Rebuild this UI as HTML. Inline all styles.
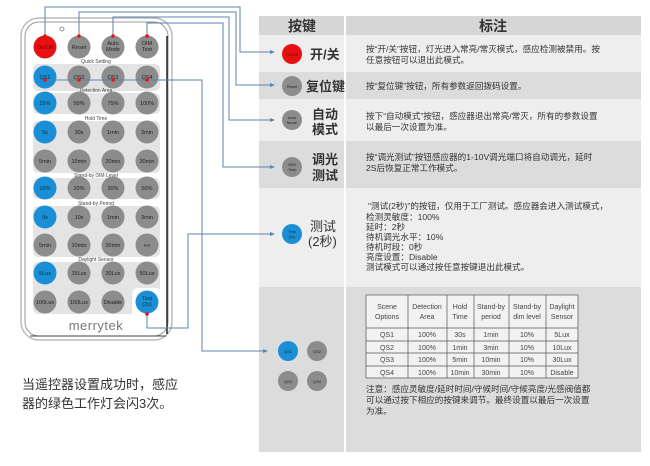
<!DOCTYPE html>
<html><head><meta charset="utf-8"><style>
body{margin:0;background:#fff;}
svg text{font-family:"Liberation Sans","Noto Sans CJK SC",sans-serif;}
</style></head><body>
<svg width="650" height="461" viewBox="0 0 650 461" xmlns="http://www.w3.org/2000/svg">
<!-- table background -->
<rect x="259" y="16" width="382" height="19" fill="#d6d6d6"/>
<rect x="259" y="35" width="382" height="37" fill="#eeeeee"/>
<rect x="259" y="72" width="382" height="27" fill="#dcdcdc"/>
<rect x="259" y="99" width="382" height="42" fill="#eeeeee"/>
<rect x="259" y="141" width="382" height="47" fill="#dcdcdc"/>
<rect x="259" y="188" width="382" height="99" fill="#eeeeee"/>
<rect x="259" y="287" width="382" height="165" fill="#dcdcdc"/>
<line x1="345" y1="16" x2="345" y2="452" stroke="#fff" stroke-width="2"/>
<text x="302" y="31" font-size="14" font-weight="bold" fill="#333" text-anchor="middle">按键</text>
<text x="493" y="31" font-size="14" font-weight="bold" fill="#333" text-anchor="middle">标注</text>

<!-- row icons -->
<circle cx="292" cy="54" r="10" fill="#e81010"/><text x="292" y="56" font-size="4" fill="#600" text-anchor="middle">On/Off</text>
<text x="310" y="59" font-size="13" font-weight="bold" fill="#333">开/关</text>
<circle cx="292" cy="86" r="10" fill="#8c8c8c"/><text x="292" y="88" font-size="4" fill="#222" text-anchor="middle">Reset</text>
<text x="306" y="91" font-size="13" font-weight="bold" fill="#333">复位键</text>
<circle cx="292" cy="120" r="10" fill="#8c8c8c"/><text x="292" y="119" font-size="4" fill="#222" text-anchor="middle">Auto</text><text x="292" y="124" font-size="4" fill="#222" text-anchor="middle">Mode</text>
<text x="312" y="119" font-size="13" font-weight="bold" fill="#333">自动</text><text x="312" y="134" font-size="13" font-weight="bold" fill="#333">模式</text>
<circle cx="292" cy="167" r="10" fill="#8c8c8c"/><text x="292" y="166" font-size="4" fill="#222" text-anchor="middle">DIM</text><text x="292" y="171" font-size="4" fill="#222" text-anchor="middle">Test</text>
<text x="312" y="164" font-size="13" font-weight="bold" fill="#333">调光</text><text x="312" y="180" font-size="13" font-weight="bold" fill="#333">测试</text>
<circle cx="292" cy="234" r="10" fill="#1a8fd6"/><text x="292" y="233" font-size="4" fill="#033" text-anchor="middle">Test</text><text x="292" y="238" font-size="4" fill="#033" text-anchor="middle">(2s)</text>
<text x="310" y="231" font-size="13" fill="#333">测试</text><text x="308" y="246" font-size="13" fill="#333">(2秒)</text>
<circle cx="288" cy="351" r="10" fill="#1a8fd6"/><text x="288" y="353" font-size="4" fill="#033" text-anchor="middle">QS1</text>
<circle cx="317" cy="351" r="10" fill="#8c8c8c"/><text x="317" y="353" font-size="4" fill="#222" text-anchor="middle">QS2</text>
<circle cx="288" cy="381" r="10" fill="#8c8c8c"/><text x="288" y="383" font-size="4" fill="#222" text-anchor="middle">QS3</text>
<circle cx="317" cy="381" r="10" fill="#8c8c8c"/><text x="317" y="383" font-size="4" fill="#222" text-anchor="middle">QS4</text>

<!-- descriptions -->
<g font-size="8.6" fill="#333">
<text x="366" y="52">按“开/关”按钮，灯光进入常亮/常灭模式，感应检测被禁用。按</text>
<text x="366" y="63">任意按钮可以退出此模式。</text>
<text x="366" y="89">按“复位键”按钮，所有参数返回拨码设置。</text>
<text x="366" y="119">按下“自动模式”按钮，感应器退出常亮/常灭，所有的参数设置</text>
<text x="366" y="130">以最后一次设置为准。</text>
<text x="366" y="160">按“调光测试”按钮感应器的1-10V调光端口将自动调光，延时</text>
<text x="366" y="171">2S后恢复正常工作模式。</text>
<text x="368" y="209">"测试(2秒)"的按钮，仅用于工厂测试。感应器会进入测试模式，</text>
<text x="366" y="220">检测灵敏度：100%</text>
<text x="366" y="230">延时：2秒</text>
<text x="366" y="240">待机调光水平：10%</text>
<text x="366" y="250">待机时段：0秒</text>
<text x="366" y="260">亮度设置：Disable</text>
<text x="366" y="270">测试模式可以通过按任意按键退出此模式。</text>
<text x="366" y="392">注意：感应灵敏度/延时时间/守候时间/守候亮度/光感阀值都</text>
<text x="366" y="403">可以通过按下相应的按键来调节。最终设置以最后一次设置</text>
<text x="366" y="414">为准。</text>
</g>

<!-- inner table -->
<g stroke="#555" stroke-width="0.7" fill="none">
<rect x="366" y="295" width="212" height="83" fill="#f2f2f2"/>
<line x1="366" y1="328" x2="578" y2="328"/><line x1="366" y1="341" x2="578" y2="341"/><line x1="366" y1="353" x2="578" y2="353"/><line x1="366" y1="366" x2="578" y2="366"/>
<line x1="408" y1="295" x2="408" y2="378"/><line x1="447" y1="295" x2="447" y2="378"/><line x1="474" y1="295" x2="474" y2="378"/><line x1="509" y1="295" x2="509" y2="378"/><line x1="546" y1="295" x2="546" y2="378"/>
</g>
<g font-size="7" fill="#444" text-anchor="middle">
<text x="387" y="309">Scene</text><text x="387" y="319">Options</text>
<text x="427" y="309">Detection</text><text x="427" y="319">Area</text>
<text x="460" y="309">Hold</text><text x="460" y="319">Time</text>
<text x="491" y="309">Stand-by</text><text x="491" y="319">period</text>
<text x="527" y="309">Stand-by</text><text x="527" y="319">dim level</text>
<text x="562" y="309">Daylight</text><text x="562" y="319">Sensor</text>
<text x="387" y="337">QS1</text><text x="427" y="337">100%</text><text x="460" y="337">30s</text><text x="491" y="337">1min</text><text x="527" y="337">10%</text><text x="562" y="337">5Lux</text>
<text x="387" y="350">QS2</text><text x="427" y="350">100%</text><text x="460" y="350">1min</text><text x="491" y="350">3min</text><text x="527" y="350">10%</text><text x="562" y="350">10Lux</text>
<text x="387" y="362">QS3</text><text x="427" y="362">100%</text><text x="460" y="362">5min</text><text x="491" y="362">10min</text><text x="527" y="362">10%</text><text x="562" y="362">30Lux</text>
<text x="387" y="375">QS4</text><text x="427" y="375">100%</text><text x="460" y="375">10min</text><text x="491" y="375">30min</text><text x="527" y="375">10%</text><text x="562" y="375">Disable</text>
</g>

<!-- remote -->
<rect x="21" y="18" width="151" height="322" rx="18" fill="#fff" stroke="#bbb" stroke-width="1.5"/>
<rect x="25" y="22" width="143" height="314" rx="14" fill="#fff" stroke="#999" stroke-width="1"/>
<line x1="167" y1="36" x2="167" y2="334" stroke="#222" stroke-width="1.5"/>
<line x1="30" y1="336" x2="166" y2="336" stroke="#444" stroke-width="1"/>
<circle cx="62" cy="29" r="2" fill="none" stroke="#777" stroke-width="0.8"/>
<g fill="#e4e4e4">
<rect x="33" y="64" width="127" height="27" rx="5"/>
<rect x="33" y="93" width="127" height="21" rx="5"/>
<rect x="33" y="121" width="127" height="52" rx="5"/>
<rect x="33" y="178" width="127" height="21" rx="5"/>
<rect x="33" y="206" width="127" height="51" rx="5"/>
<rect x="33" y="262" width="127" height="52" rx="5"/>
</g>
<rect x="132" y="288" width="30" height="30" rx="6" fill="#fff"/>
<g font-size="5" fill="#444" text-anchor="middle">
<text x="96" y="63">Quick Setting</text>
<text x="96" y="92">Detection Area</text>
<text x="96" y="120">Hold Time</text>
<text x="96" y="177">Stand-by DIM Level</text>
<text x="96" y="205">Stand-by Period</text>
<text x="96" y="261">Daylight Sensor</text>
</g>
<g font-size="5.5" text-anchor="middle">
<circle cx="45" cy="47" r="11.5" fill="#e81010"/><text x="45" y="49" fill="#700">On/Off</text>
<circle cx="79" cy="47" r="11.5" fill="#8c8c8c"/><text x="79" y="49" fill="#222">Reset</text>
<circle cx="113" cy="47" r="11.5" fill="#8c8c8c"/><text x="113" y="45" fill="#222">Auto</text><text x="113" y="51" fill="#222">Mode</text>
<circle cx="147" cy="47" r="11.5" fill="#8c8c8c"/><text x="147" y="45" fill="#222">DIM</text><text x="147" y="51" fill="#222">Test</text>

<circle cx="45" cy="77" r="11.5" fill="#1a8fd6"/><text x="45" y="79" fill="#033">QS1</text>
<circle cx="79" cy="77" r="11.5" fill="#8c8c8c"/><text x="79" y="79" fill="#222">QS2</text>
<circle cx="113" cy="77" r="11.5" fill="#8c8c8c"/><text x="113" y="79" fill="#222">QS3</text>
<circle cx="147" cy="77" r="11.5" fill="#8c8c8c"/><text x="147" y="79" fill="#222">QS4</text>

<circle cx="45" cy="103" r="11.5" fill="#1a8fd6"/><text x="45" y="105" fill="#033">25%</text>
<circle cx="79" cy="103" r="11.5" fill="#8c8c8c"/><text x="79" y="105" fill="#222">50%</text>
<circle cx="113" cy="103" r="11.5" fill="#8c8c8c"/><text x="113" y="105" fill="#222">75%</text>
<circle cx="147" cy="103" r="11.5" fill="#8c8c8c"/><text x="147" y="105" fill="#222">100%</text>

<circle cx="45" cy="132" r="11.5" fill="#1a8fd6"/><text x="45" y="134" fill="#033">5s</text>
<circle cx="79" cy="132" r="11.5" fill="#8c8c8c"/><text x="79" y="134" fill="#222">30s</text>
<circle cx="113" cy="132" r="11.5" fill="#8c8c8c"/><text x="113" y="134" fill="#222">1min</text>
<circle cx="147" cy="132" r="11.5" fill="#8c8c8c"/><text x="147" y="134" fill="#222">3min</text>

<circle cx="45" cy="161" r="11.5" fill="#8c8c8c"/><text x="45" y="163" fill="#222">5min</text>
<circle cx="79" cy="161" r="11.5" fill="#8c8c8c"/><text x="79" y="163" fill="#222">10min</text>
<circle cx="113" cy="161" r="11.5" fill="#8c8c8c"/><text x="113" y="163" fill="#222">20min</text>
<circle cx="147" cy="161" r="11.5" fill="#8c8c8c"/><text x="147" y="163" fill="#222">30min</text>

<circle cx="45" cy="188" r="11.5" fill="#1a8fd6"/><text x="45" y="190" fill="#033">10%</text>
<circle cx="79" cy="188" r="11.5" fill="#8c8c8c"/><text x="79" y="190" fill="#222">20%</text>
<circle cx="113" cy="188" r="11.5" fill="#8c8c8c"/><text x="113" y="190" fill="#222">30%</text>
<circle cx="147" cy="188" r="11.5" fill="#8c8c8c"/><text x="147" y="190" fill="#222">50%</text>

<circle cx="45" cy="217" r="11.5" fill="#1a8fd6"/><text x="45" y="219" fill="#033">0s</text>
<circle cx="79" cy="217" r="11.5" fill="#8c8c8c"/><text x="79" y="219" fill="#222">10s</text>
<circle cx="113" cy="217" r="11.5" fill="#8c8c8c"/><text x="113" y="219" fill="#222">1min</text>
<circle cx="147" cy="217" r="11.5" fill="#8c8c8c"/><text x="147" y="219" fill="#222">3min</text>

<circle cx="45" cy="245" r="11.5" fill="#8c8c8c"/><text x="45" y="247" fill="#222">5min</text>
<circle cx="79" cy="245" r="11.5" fill="#8c8c8c"/><text x="79" y="247" fill="#222">10min</text>
<circle cx="113" cy="245" r="11.5" fill="#8c8c8c"/><text x="113" y="247" fill="#222">30min</text>
<circle cx="147" cy="245" r="11.5" fill="#8c8c8c"/><text x="147" y="247" fill="#222">+∞</text>

<circle cx="45" cy="273" r="11.5" fill="#1a8fd6"/><text x="45" y="275" fill="#033">5Lux</text>
<circle cx="79" cy="273" r="11.5" fill="#8c8c8c"/><text x="79" y="275" fill="#222">15Lux</text>
<circle cx="113" cy="273" r="11.5" fill="#8c8c8c"/><text x="113" y="275" fill="#222">30Lux</text>
<circle cx="147" cy="273" r="11.5" fill="#8c8c8c"/><text x="147" y="275" fill="#222">50Lux</text>

<circle cx="45" cy="302" r="11.5" fill="#8c8c8c"/><text x="45" y="304" fill="#222">100Lux</text>
<circle cx="79" cy="302" r="11.5" fill="#8c8c8c"/><text x="79" y="304" fill="#222">150Lux</text>
<circle cx="113" cy="302" r="11.5" fill="#8c8c8c"/><text x="113" y="304" fill="#222">Disable</text>
<circle cx="147" cy="302" r="11.5" fill="#1a8fd6"/><text x="147" y="300" fill="#033">Test</text><text x="147" y="306" fill="#033">(2s)</text>
</g>
<text x="96" y="330" font-size="13" fill="#777" text-anchor="middle" letter-spacing="0.5">merrytek</text>

<!-- connectors -->
<g stroke="#5b86ad" stroke-width="1" fill="none">
<polyline points="45,36 45,7 240,7 240,52 271,52"/>
<polyline points="79,36 79,12 236,12 236,85 271,85"/>
<polyline points="113,36 113,17 229,17 229,120 271,120"/>
<polyline points="147,36 147,23 223,23 223,167 271,167"/>
<polyline points="45,80 202,80 202,351 264,351"/>
<polyline points="147,313 147,328 188,328 188,234 271,234"/>
</g>
<g fill="#5b86ad">
<polygon points="275,52 270,50 270,54"/><polygon points="275,85 270,83 270,87"/>
<polygon points="275,120 270,118 270,122"/><polygon points="275,167 270,165 270,169"/>
<polygon points="275,234 270,232 270,236"/><polygon points="268,351 263,349 263,353"/>
</g>
<g fill="#e81010">
<circle cx="45" cy="36" r="1.8"/><circle cx="79" cy="36" r="1.8"/><circle cx="113" cy="36" r="1.8"/><circle cx="147" cy="36" r="1.8"/>
<circle cx="45" cy="80" r="1.8"/><circle cx="79" cy="80" r="1.8"/><circle cx="113" cy="80" r="1.8"/><circle cx="147" cy="80" r="1.8"/>
<circle cx="147" cy="314" r="1.8"/>
</g>

<text x="22" y="389" font-size="13" fill="#333">当遥控器设置成功时，感应</text>
<text x="22" y="408" font-size="13" fill="#333">器的绿色工作灯会闪3次。</text>
</svg>
</body></html>
